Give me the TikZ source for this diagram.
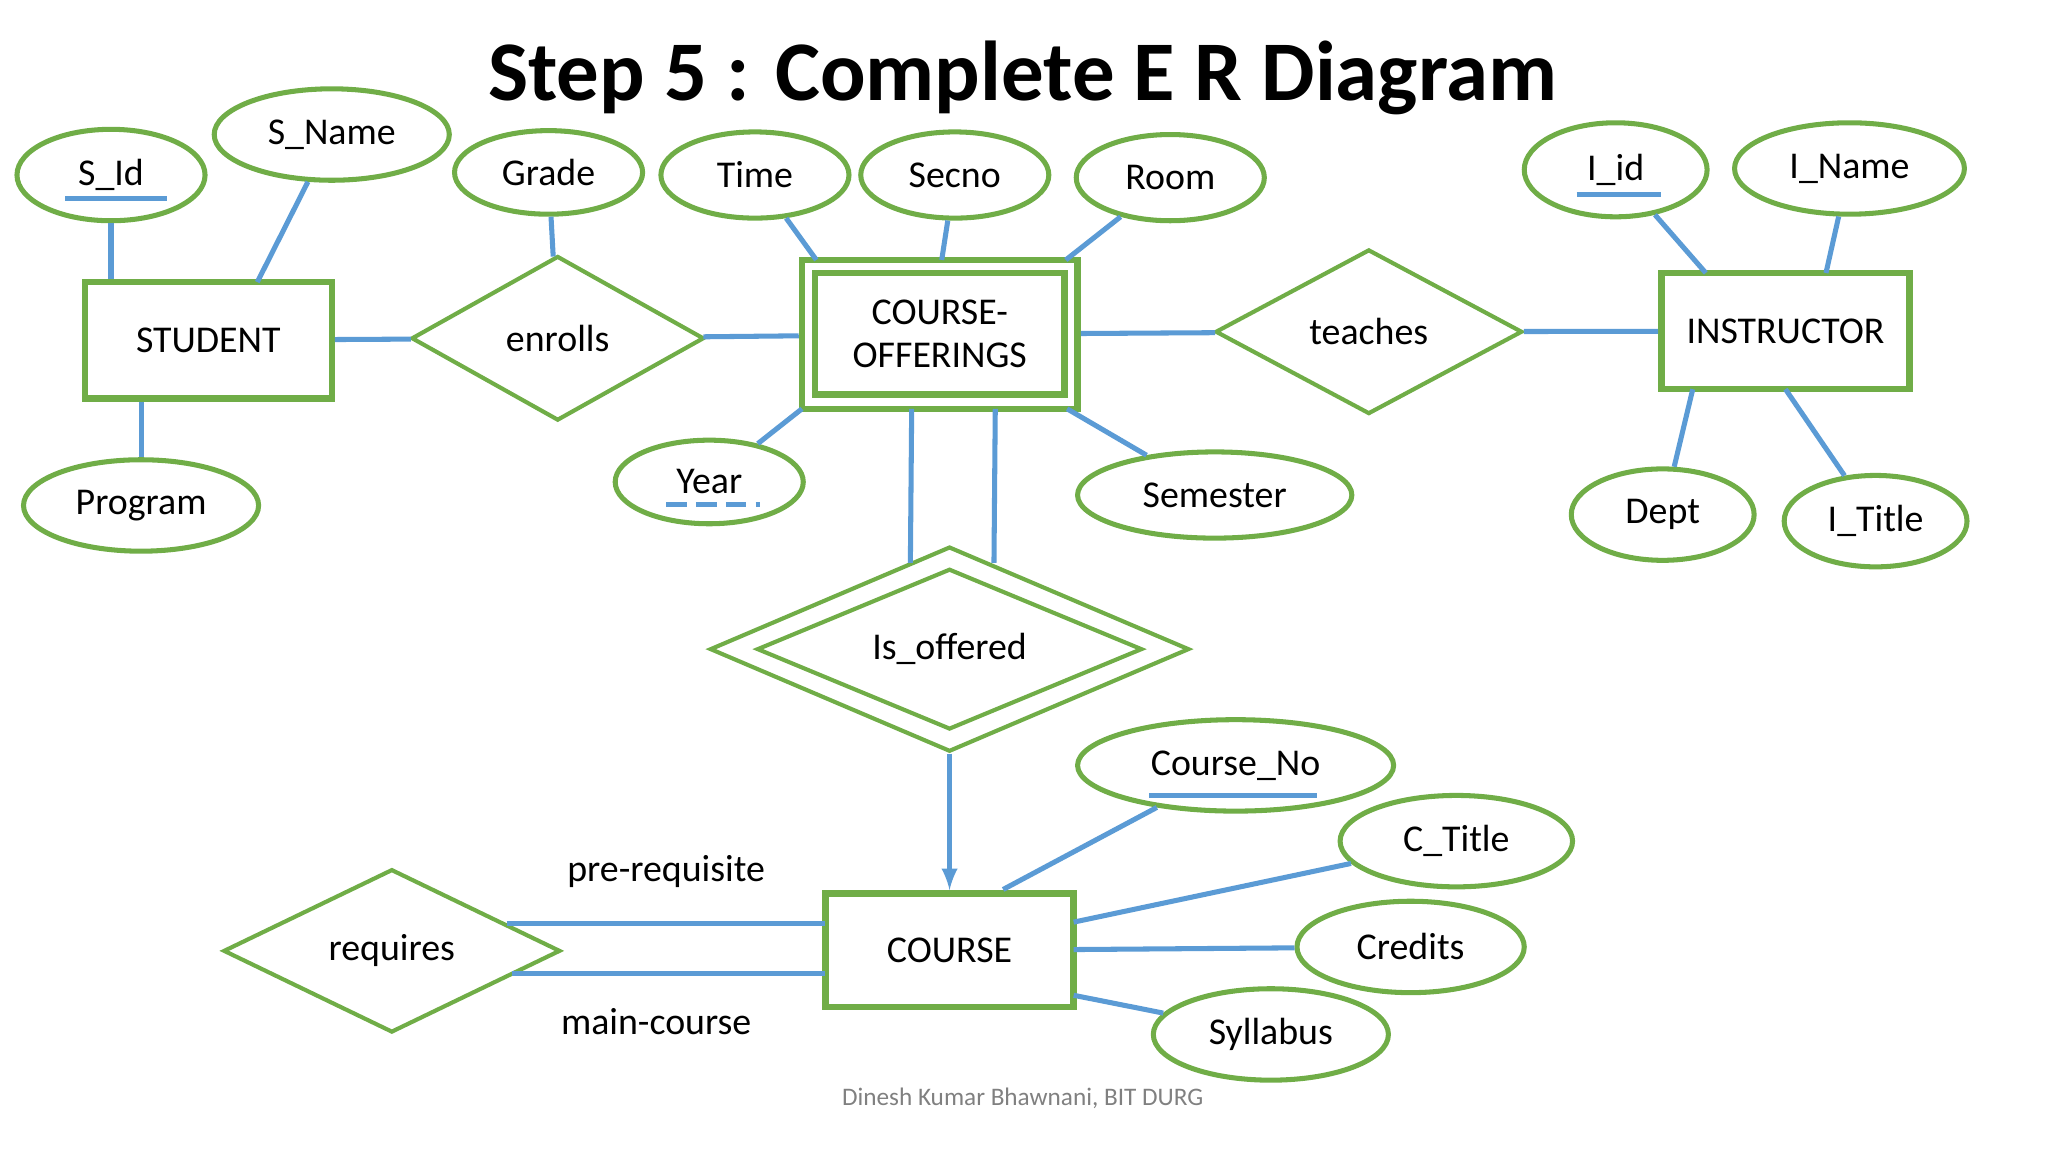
\documentclass[tikz,border=0pt]{standalone}
\usepackage{fontspec}
\setmainfont{Carlito}
\usetikzlibrary{shapes.geometric,calc}
\definecolor{ergreen}{HTML}{70AD47}
\definecolor{erblue}{HTML}{5B9BD5}
\tikzset{
  ent/.style={draw=ergreen, line width=2.8pt, rectangle, inner sep=0pt, font=\fontsize{16.5}{19}\selectfont, align=center},
  rel/.style={draw=ergreen, line width=1.8pt, diamond, aspect=1.78, inner sep=0pt, font=\fontsize{16.5}{19}\selectfont},
  att/.style={draw=ergreen, line width=2.2pt, ellipse, inner sep=0pt, font=\fontsize{16.5}{19}\selectfont},
  lnk/.style={draw=erblue, line width=2.2pt},
}
\begin{document}
\begin{tikzpicture}[x=0.02cm, y=-0.02cm]
\useasboundingbox (0,0) rectangle (1568,882);
\node[font=\bfseries\fontsize{37}{40}\selectfont] (title) at (783,60) {Step 5 : Complete E R Diagram};
\node[text=gray, font=\fontsize{11}{13}\selectfont] (foot) at (783,841) {Dinesh Kumar Bhawnani, BIT DURG};

% entities
\node[ent, minimum width=189*0.02cm, minimum height=89*0.02cm] (student) at (159.5,260.5) {STUDENT};
\node[ent, minimum width=211*0.02cm, minimum height=114*0.02cm] (co) at (719.5,256) {};
\node[ent, minimum width=191*0.02cm, minimum height=93*0.02cm] (coin) at (719.5,255.5) {COURSE-\\OFFERINGS};
\node[ent, minimum width=190*0.02cm, minimum height=89*0.02cm] (instr) at (1367,253.5) {INSTRUCTOR};
\node[ent, minimum width=190*0.02cm, minimum height=87*0.02cm] (course) at (727,727.5) {COURSE};

% relationships
\node[rel, minimum width=224*0.02cm, minimum height=126*0.02cm] (enrolls) at (427,259) {enrolls};
\node[rel, minimum width=235*0.02cm, minimum height=126*0.02cm] (teaches) at (1048,254) {teaches};
\node[rel, minimum width=367*0.02cm, minimum height=157*0.02cm] (offered) at (727,497) {};
\node[rel, minimum width=295*0.02cm, minimum height=123*0.02cm] (offin) at (727,497) {Is\_offered};
\node[rel, minimum width=258*0.02cm, minimum height=125*0.02cm] (requires) at (300,728) {requires};

% attributes
\node[att, minimum width=144*0.02cm, minimum height=70*0.02cm] (sid) at (85,134) {S\_Id};
\node[att, minimum width=180*0.02cm, minimum height=70*0.02cm] (sname) at (254,103) {S\_Name};
\node[att, minimum width=144*0.02cm, minimum height=64*0.02cm] (grade) at (420,132) {Grade};
\node[att, minimum width=144*0.02cm, minimum height=66*0.02cm] (time) at (578,134) {Time};
\node[att, minimum width=144*0.02cm, minimum height=66*0.02cm] (secno) at (731,134) {Secno};
\node[att, minimum width=144*0.02cm, minimum height=66*0.02cm] (room) at (896,136) {Room};
\node[att, minimum width=140*0.02cm, minimum height=72*0.02cm] (iid) at (1237,130) {I\_id};
\node[att, minimum width=176*0.02cm, minimum height=70*0.02cm] (iname) at (1416,129) {I\_Name};
\node[att, minimum width=180*0.02cm, minimum height=70*0.02cm] (program) at (108,387) {Program};
\node[att, minimum width=144*0.02cm, minimum height=64*0.02cm] (year) at (543,369) {Year};
\node[att, minimum width=210*0.02cm, minimum height=66*0.02cm] (semester) at (930,379) {Semester};
\node[att, minimum width=140*0.02cm, minimum height=70*0.02cm] (dept) at (1273,394) {Dept};
\node[att, minimum width=140*0.02cm, minimum height=70*0.02cm] (ititle) at (1436,399) {I\_Title};
\node[att, minimum width=242*0.02cm, minimum height=70*0.02cm] (cno) at (946,586) {Course\_No};
\node[att, minimum width=178*0.02cm, minimum height=70*0.02cm] (ctitle) at (1115,644) {C\_Title};
\node[att, minimum width=174*0.02cm, minimum height=70*0.02cm] (credits) at (1080,725) {Credits};
\node[att, minimum width=180*0.02cm, minimum height=70*0.02cm] (syllabus) at (973,792) {Syllabus};

% keys
\draw[lnk] (50,152) -- (128,152);
\draw[lnk] (1207,149) -- (1272,149);
\draw[lnk] (880,609) -- (1008,609);
\draw[lnk, dash pattern=on 9pt off 4pt] (510,386) -- (582,386);

% links
\draw[lnk] (sid) -- (sid |- student.north);
\draw[lnk] (sname) -- (197,216);
\draw[lnk] (program) -- (program |- student.south);
\draw[lnk] (student) -- (enrolls);
\draw[lnk] (grade) -- (enrolls);
\draw[lnk] (enrolls) -- (co);
\draw[lnk] (time) -- (625,199);
\draw[lnk] (secno) -- (721,199);
\draw[lnk] (room) -- (816,199);
\draw[lnk] (year) -- (614,313);
\draw[lnk] (semester) -- (817,313);
\draw[lnk] (co) -- (teaches);
\draw[lnk] (teaches) -- (instr);
\draw[lnk] (iid) -- (1306,209);
\draw[lnk] (iname) -- (1398,209);
\draw[lnk] (dept) -- (1296,298);
\draw[lnk] (ititle) -- (1367,298);
\draw[lnk] (698,313) -- (697,431);
\draw[lnk] (762,313) -- (761,431);
\draw[lnk, -latex] (offered.south) -- (course.north);
\draw[lnk] (388,707) -- (632,707) node[pos=0.5, above=11pt, text=black, font=\fontsize{16.5}{19}\selectfont] (pre) {pre-requisite};
\draw[lnk] (392,745) -- (632,745) node[pos=0.46, below=11pt, text=black, font=\fontsize{16.5}{19}\selectfont] (main) {main-course};
\draw[lnk] (cno) -- (768,681);
\draw[lnk] (ctitle) -- (822,706);
\draw[lnk] (credits) -- (822,727);
\draw[lnk] (syllabus) -- (822,762);
\end{tikzpicture}
\end{document}
